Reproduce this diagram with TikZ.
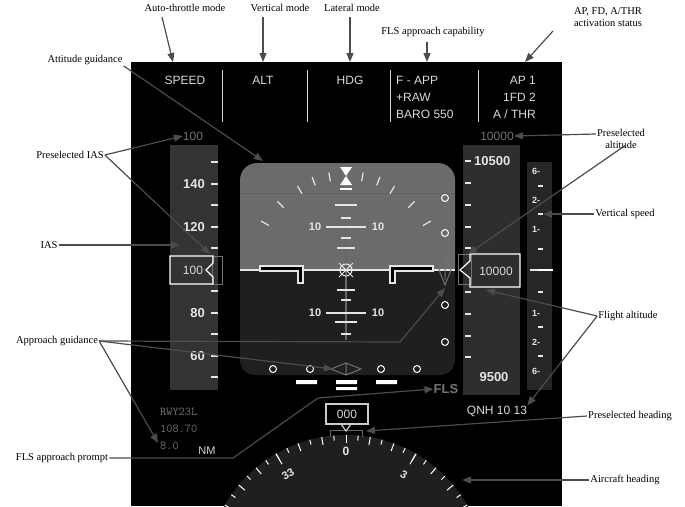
\documentclass[tikz,border=0pt]{standalone}
\usepackage{fontspec}
\setmainfont{Liberation Serif}
\newfontfamily\pfd{Liberation Sans}
\usetikzlibrary{arrows.meta,calc}
\begin{document}
\begin{tikzpicture}[x=1pt,y=-1pt,
  lbl/.style={font=\fontsize{10.5}{11.5}\selectfont,align=center,inner sep=1pt},
  ann/.style={draw=black!70,line width=1.2pt,-{Triangle[length=9pt,width=7pt]}},
  fma/.style={font=\pfd\fontsize{12}{14}\selectfont,text=white!85!black,inner sep=0pt},
  gtxt/.style={font=\pfd\fontsize{11}{13}\selectfont,text=black!55,inner sep=0pt},
  wtxt/.style={font=\pfd\bfseries\fontsize{11}{13}\selectfont,text=white!90!black,inner sep=0pt},
  wl/.style={draw=white!90!black,line width=1.2pt},
  sep/.style={draw=white!85!black,line width=1pt}]
\useasboundingbox (0,0) rectangle (685,506);
\fill[black] (131,62) rectangle (562,506);
% FMA
\node[fma] (spd) at (185,80) {SPEED};
\node[fma] (alt) at (263,80) {ALT};
\node[fma] (hdg) at (350,80) {HDG};
\node[fma,anchor=west,align=left,font=\pfd\fontsize{12}{17}\selectfont] (fls) at (396,97) {F - APP\\+RAW\\BARO 550};
\node[fma,anchor=east,align=right,font=\pfd\fontsize{12}{17}\selectfont] (ap) at (536,97) {AP 1\\1FD 2\\A / THR};
\foreach \x in {222,307,390,478} \draw[sep] (\x,70) -- (\x,122);
% tapes
\fill[black!80] (170,145) rectangle (218,390);
\fill[black!82] (463,145) rectangle (520,395);
\fill[black!85] (527,162) rectangle (552,390);
% attitude
\fill[black!88] (240,270) -- (240,360) arc[start angle=180,end angle=90,radius=15] -- (440,375) arc[start angle=90,end angle=0,radius=15] -- (455,270) -- cycle;
\fill[black!58] (240,270) -- (240,180) arc[start angle=180,end angle=270,radius=17] -- (438,163) arc[start angle=270,end angle=360,radius=17] -- (455,270) -- cycle;
\draw[black!62,line width=0.4pt] (240,193) -- (455,193);
% roll scale
\foreach \a/\r in {10/90,20/90,30/88,45/88,60/89} {\draw[wl] (346,270) ++ (\a-90:\r) -- ++(\a-90:9); \draw[wl] (346,270) ++ (-\a-90:\r) -- ++(-\a-90:9);}
\fill[white] (340,167) -- (352,167) -- (346,176) -- cycle;
\fill[white] (346,176) -- (340,185) -- (352,185) -- cycle;
\fill[white] (340,188) rectangle (352,190);
% pitch ladder
\draw[black!60,line width=1.5pt] (346,212) -- (346,340);
\foreach \y/\w in {205/11,218/5,238/5,248/9,290/9,300/5,322/11,334/5} \draw[wl] (346-\w,\y) -- (346+\w,\y);
\draw[wl] (326,227) -- (366,227); \draw[wl] (326,313) -- (366,313);
\node[wtxt] at (315,227) {10}; \node[wtxt] at (378,227) {10};
\node[wtxt] at (315,313) {10}; \node[wtxt] at (378,313) {10};
% horizon & aircraft
\draw[wl] (240,270) -- (455,270);
\draw[wl,fill=black] (260,266) -- (303,266) -- (303,283) -- (298,283) -- (298,271) -- (260,271) -- cycle;
\draw[wl,fill=black] (433,266) -- (390,266) -- (390,283) -- (395,283) -- (395,271) -- (433,271) -- cycle;
\draw[wl,line width=1pt] (346,270) circle (6);
\draw[wl,line width=1pt] (339,263) -- (353,277) (339,277) -- (353,263);
% glide slope
\foreach \y in {198,233,305,342} \draw[white,line width=1pt] (445,\y) circle (3.5);
\draw[black!55,line width=1pt] (445,255) -- (451,270) -- (445,285) -- (439,270) -- cycle (445,260) -- (445,280);
% localizer
\foreach \x in {273,310,381,417} \draw[white,line width=1pt] (\x,369) circle (3.5);
\draw[black!55,line width=1pt] (331,369) -- (346,363) -- (361,369) -- (346,375) -- cycle (346,363) -- (346,375);
\fill[white] (296,380) rectangle (317,384) (336,380) rectangle (357,384) (336,387) rectangle (357,390) (376,380) rectangle (397,384);
\node[gtxt,font=\pfd\bfseries\fontsize{13}{14}\selectfont] (flsp) at (446,389) {FLS};
% speed tape
\node[gtxt,font=\pfd\fontsize{12}{13}\selectfont] (pias) at (193,136) {100};
\foreach \y in {162,205,248,291,334,377} \draw[wl] (211,\y) -- (218,\y);
\foreach \y/\v in {184/140,227/120,313/80,356/60} {\draw[wl] (211,\y) -- (218,\y); \node[wtxt,font=\pfd\bfseries\fontsize{13}{14}\selectfont,anchor=east] at (205,\y) {\v};}
\draw[black!55,line width=0.8pt] (212,256) rectangle (222,284);
\draw[white,line width=1.2pt] (170,256) -- (213,256) -- (213,263) -- (206,270) -- (213,277) -- (213,284) -- (170,284) -- cycle;
\node[fma,font=\pfd\fontsize{12}{13}\selectfont] (ias) at (193,270) {100};
% altitude tape
\node[gtxt,font=\pfd\fontsize{12}{13}\selectfont] (palt) at (497,136) {10000};
\foreach \y in {183,205,227,248,292,314,336,357} \draw[wl] (465,\y) -- (471,\y);
\draw[wl] (465,161) -- (471,161); \node[wtxt,font=\pfd\bfseries\fontsize{13}{14}\selectfont,anchor=west] at (474,161) {10500};
\node[wtxt,font=\pfd\bfseries\fontsize{13}{14}\selectfont] at (494,377) {9500};
\draw[black!55,line width=0.8pt] (458,254) rectangle (471,284);
\draw[white,line width=1.2pt] (470,254) -- (520,254) -- (520,287) -- (470,287) -- (470,278) -- (460,270) -- (470,261) -- cycle;
\node[fma,font=\pfd\fontsize{12}{13}\selectfont] (falt) at (496,271) {10000};
% vertical speed
\foreach \y/\v in {171/6,200/2,229/1,313/1,342/2,371/6} \node[wtxt,font=\pfd\bfseries\fontsize{9}{10}\selectfont] at (536,\y) {\v-};
\foreach \y in {186,214,249,292,327,356} \draw[wl] (538,\y) -- (543,\y);
\draw[wl] (530,270) -- (538,270); \draw[white,line width=2.2pt] (538,270) -- (553,270);
\node[fma,font=\pfd\fontsize{12}{13}\selectfont] (qnh) at (497,411) {QNH 10 13};
% ILS info
\node[gtxt,font=\ttfamily\fontsize{12}{17}\selectfont,align=left,anchor=north west] (rwy) at (160,408) {RWY23L\\108.70\\8.0};
\node[fma,font=\pfd\fontsize{11}{12}\selectfont] at (207,451) {NM};
% compass
\begin{scope}
\clip (131,62) rectangle (562,506);
\fill[black!88] (346,575) circle (140);
\foreach \a in {-60,-55,...,60} {\pgfmathsetmacro\l{mod(\a,10)==0?8:5}\draw[white,line width=1pt] (346,575) ++(\a-90:140) -- ++(\a-90:-\l);}
\draw[white,line width=1pt] (346,575) ++(-120:140) -- ++(-120:-12) (346,575) ++(-60:140) -- ++(-60:-12);
\end{scope}
\node[wtxt,rotate=30,font=\pfd\bfseries\fontsize{11}{12}\selectfont] (h33) at ($(346,575)+(-120:116)$) {33};
\node[wtxt,rotate=-30,font=\pfd\bfseries\fontsize{11}{12}\selectfont] (h3) at ($(346,575)+(-60:116)$) {3};
\node[wtxt,font=\pfd\bfseries\fontsize{12}{13}\selectfont] (h0) at (346,451) {0};
\draw[white,line width=1pt] (346,435) -- (346,443);
\draw[black!60,line width=0.8pt] (330,437) -- (330,430) -- (362,430) -- (362,437);
\draw[white!80!black,line width=1.2pt,fill=black] (326,404) rectangle (368,424);
\draw[white!80!black,line width=1.2pt] (341,424) -- (346,431) -- (351,424);
\node[fma,font=\pfd\fontsize{12}{13}\selectfont] (phdg) at (347,414) {000};
% labels
\node[lbl] (l1) at (185,8) {Auto-throttle mode};
\node[lbl] (l2) at (280,8) {Vertical mode};
\node[lbl] (l3) at (352,8) {Lateral mode};
\node[lbl] (l4) at (433,32) {FLS approach capability};
\node[lbl] (l5) at (608,17) {AP, FD, A/THR\\activation status};
\node[lbl] (l6) at (85,60) {Attitude guidance};
\node[lbl] (l7) at (70,155) {Preselected IAS};
\node[lbl] (l8) at (49,245) {IAS};
\node[lbl] (l9) at (57,341) {Approach guidance};
\node[lbl] (l10) at (62,458) {FLS approach prompt};
\node[lbl] (r1) at (621,139) {Preselected\\altitude};
\node[lbl] (r2) at (625,214) {Vertical speed};
\node[lbl] (r3) at (628,316) {Flight altitude};
\node[lbl] (r4) at (630,416) {Preselected heading};
\node[lbl] (r5) at (625,480) {Aircraft heading};
\coordinate (c1) at (173,62); \coordinate (c2) at (263,62); \coordinate (c3) at (350,62); \coordinate (c4) at (427,62); \coordinate (c5) at (525,62);
\draw[ann] (162,17) -- (c1); \draw[ann] (263,17) -- (c2); \draw[ann] (350,17) -- (c3);
\draw[ann] (427,42) -- (c4); \draw[ann] (553,31) -- (c5);
\coordinate (att) at (263,161);
\draw[ann] (l6.south east) -- (att);
\draw[ann] (l7.east) -- (pias.west);
\coordinate (siasa) at (210,254);
\draw[ann] (l7.east) -- (siasa);
\coordinate (iasa) at (180,245);
\draw[ann] (l8.east) -- (iasa);
\coordinate (gsd) at (445,288);
\draw[ann] (l9.east) -- (400,342) -- (gsd);
\coordinate (lod) at (333,369);
\draw[ann] (l9.east) -- (lod);
\coordinate (rwya) at (158,443);
\draw[ann] (l9.east) -- (rwya);
\draw[ann] (l10.east) -- (233,458) -- (318,398) -- (flsp.west);
\draw[ann] (r1.west) ++(0,-5) -- (palt.east);
\coordinate (palta) at (468,254);
\draw[ann] (r1.west) ++(30,6) -- (palta);
\coordinate (vsa) at (543,214);
\draw[ann] (r2.west) -- (vsa);
\coordinate (falta) at (486,290);
\draw[ann] (r3.west) -- (falta);
\draw[ann] (r3.west) -- (qnh.north east);
\coordinate (phdga) at (366,431);
\draw[ann] (r4.west) -- (phdga);
\coordinate (acha) at (462,480);
\draw[ann] (r5.west) -- (acha);
\end{tikzpicture}
\end{document}
